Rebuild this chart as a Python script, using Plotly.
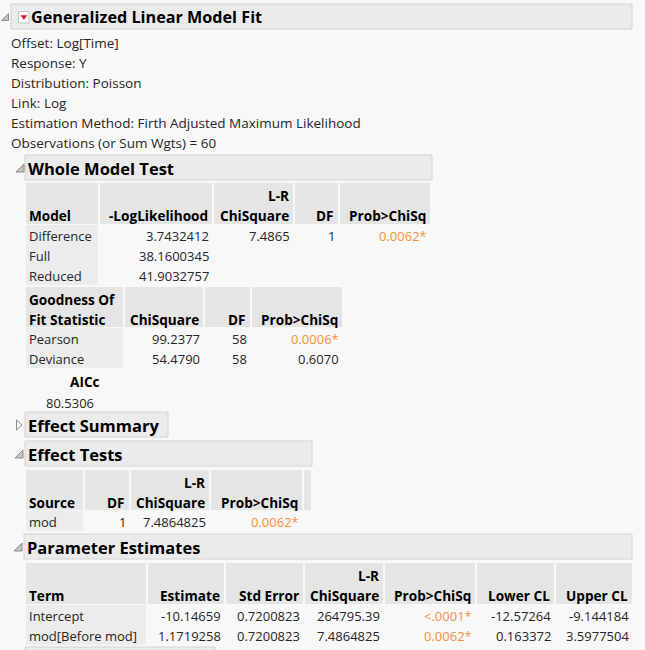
import plotly.graph_objects as go

# ------------------------------------------------------
# Report content (JMP Generalized Linear Model Fit)
# ------------------------------------------------------
main_title = "Generalized Linear Model Fit"
info_lines = [
    "Offset: Log[Time]",
    "Response: Y",
    "Distribution: Poisson",
    "Link: Log",
    "Estimation Method: Firth Adjusted Maximum Likelihood",
    "Observations (or Sum Wgts) = 60",
]

# Whole Model Test
wmt_headers = [("", "Model"), ("", "-LogLikelihood"), ("L-R", "ChiSquare"), ("", "DF"), ("", "Prob>ChiSq")]
wmt_model = ["Difference", "Full", "Reduced"]
wmt_loglik = ["3.7432412", "38.1600345", "41.9032757"]
wmt_chisq = ["7.4865", "", ""]
wmt_df = ["1", "", ""]
wmt_prob = ["0.0062*", "", ""]

# Goodness of fit
gof_headers = [("Goodness Of", "Fit Statistic"), ("", "ChiSquare"), ("", "DF"), ("", "Prob>ChiSq")]
gof_stat = ["Pearson", "Deviance"]
gof_chisq = ["99.2377", "54.4790"]
gof_df = ["58", "58"]
gof_prob = ["0.0006*", "0.6070"]

aicc_label = "AICc"
aicc_value = "80.5306"

# Effect Tests
et_headers = [("", "Source"), ("", "DF"), ("L-R", "ChiSquare"), ("", "Prob>ChiSq"), ("", "")]
et_source = ["mod"]
et_df = ["1"]
et_chisq = ["7.4864825"]
et_prob = ["0.0062*"]
et_blank = [""]

# Parameter Estimates
pe_headers = [("", "Term"), ("", "Estimate"), ("", "Std Error"), ("L-R", "ChiSquare"),
              ("", "Prob>ChiSq"), ("", "Lower CL"), ("", "Upper CL")]
pe_term = ["Intercept", "mod[Before mod]"]
pe_estimate = ["-10.14659", "1.1719258"]
pe_stderr = ["0.7200823", "0.7200823"]
pe_chisq = ["264795.39", "7.4864825"]
pe_prob = ["<.0001*", "0.0062*"]
pe_lower = ["-12.57264", "0.163372"]
pe_upper = ["-9.144184", "3.5977504"]

# ------------------------------------------------------
# Styling
# ------------------------------------------------------
FONT = "Open Sans"
PAGE_BG = "#f8f8f8"
BOX_BG = "#ebebeb"
BOX_LINE = "#d3d3d3"
HEAD_BG = "#e5e5e5"
LABEL_BG = "#ececec"
TXT = "#262626"
SIG = "#f5903e"

fig = go.Figure()


def rect(x0, y0, x1, y1, fill, line=None):
    fig.add_shape(type="rect", xref="x", yref="y", x0=x0, y0=y0, x1=x1, y1=y1,
                  fillcolor=fill, line=dict(color=line or fill, width=1 if line else 0),
                  layer="below")


def txt(x, y, s, anchor="left", size=13, color=TXT, bold=False):
    if bold:
        s = "<b>" + s + "</b>"
    fig.add_annotation(x=x, y=y, xref="x", yref="y", text=s, showarrow=False,
                       xanchor=anchor, yanchor="middle", borderpad=0,
                       font=dict(family=FONT, size=size, color=color))


def tri_open(x0, y0, s=8):
    # JMP "open" outline icon: small triangle with right angle bottom-right
    fig.add_shape(type="path", xref="x", yref="y",
                  path=f"M {x0},{y0 + s} L {x0 + s},{y0 + s} L {x0 + s},{y0} Z",
                  fillcolor="#c4c4c4", line=dict(color="#8c8c8c", width=1))


def tri_closed(x0, y0, s=10):
    fig.add_shape(type="path", xref="x", yref="y",
                  path=f"M {x0},{y0} L {x0 + s * 0.55},{y0 + s / 2} L {x0},{y0 + s} Z",
                  fillcolor="#fdfdfd", line=dict(color="#8c8c8c", width=1))


def section(title, x0, x1, y0, size=16.5, h=25):
    rect(x0, y0, x1, y0 + h, BOX_BG, BOX_LINE)
    txt(x0 + 2, y0 + h / 2 + 0.5, title, size=size, color="#000000", bold=True)


def draw_table(top, edges, headers, columns, head_h=41, row_h=20):
    hb = top + head_h
    nrows = len(columns[0])
    for i, (l1, l2) in enumerate(headers):
        x0, x1 = edges[i], edges[i + 1] - 2
        rect(x0, top, x1, hb, HEAD_BG)
        anchor = "left" if i == 0 else "right"
        tx = x0 + 2 if i == 0 else x1 - 3
        if l1:
            txt(tx, top + 12, l1, anchor, size=13.6, bold=True, color="#000000")
        if l2:
            txt(tx, top + 32, l2, anchor, size=13.6, bold=True, color="#000000")
    rect(edges[0], hb + 1, edges[1] - 2, hb + 1 + row_h * nrows, LABEL_BG)
    for j in range(nrows):
        y = hb + 12 + row_h * j
        for i, col in enumerate(columns):
            v = col[j]
            if not v:
                continue
            color = SIG if v.endswith("*") else TXT
            if i == 0:
                txt(edges[0] + 2, y, v, "left", color=color)
            else:
                txt(edges[i + 1] - 4.5, y, v, "right", color=color)


# main outline header
rect(11, 4, 632, 29, BOX_BG, BOX_LINE)
tri_open(1.5, 13.5, 7)
fig.add_shape(type="rect", xref="x", yref="y", x0=18.5, y0=11.5, x1=29, y1=23,
              fillcolor="#f6f6f6", line=dict(color="#c6c6c6", width=1))
fig.add_shape(type="path", xref="x", yref="y", path="M 21,15.5 L 26.8,15.5 L 23.9,19.5 Z",
              fillcolor="#d41a1a", line=dict(color="#d41a1a", width=0.5))
txt(30, 17, main_title, size=16.2, color="#000000", bold=True)

for k, line in enumerate(info_lines):
    txt(10, 43 + 20 * k, line, size=13.5)

# Whole Model Test
tri_open(16, 164)
section("Whole Model Test", 25, 432, 155)
draw_table(183, [26, 100, 214, 295, 340, 432], wmt_headers,
           [wmt_model, wmt_loglik, wmt_chisq, wmt_df, wmt_prob])
draw_table(287, [26, 125, 205, 252, 344], gof_headers,
           [gof_stat, gof_chisq, gof_df, gof_prob], head_h=40)
txt(101, 381, aicc_label, "right", size=13.6, bold=True, color="#000000")
txt(95, 403, aicc_value, "right")

# Effect Summary (closed)
tri_closed(16.5, 420)
section("Effect Summary", 25, 168, 412)

# Effect Tests
tri_open(15, 450)
section("Effect Tests", 25, 312, 441)
draw_table(470, [26, 85, 131, 211, 304, 313], et_headers,
           [et_source, et_df, et_chisq, et_prob, et_blank], head_h=40)

# Parameter Estimates
tri_open(14, 543)
section("Parameter Estimates", 24, 632, 534)
draw_table(563, [26, 148, 226, 305, 385, 477, 556, 634], pe_headers,
           [pe_term, pe_estimate, pe_stderr, pe_chisq, pe_prob, pe_lower, pe_upper])

# next (collapsed) outline box, cut off by the window
rect(25, 647, 215, 672, BOX_BG, BOX_LINE)

fig.update_layout(
    width=645, height=650,
    margin=dict(l=0, r=0, t=0, b=0),
    paper_bgcolor=PAGE_BG, plot_bgcolor=PAGE_BG,
    xaxis=dict(range=[0, 645], visible=False, fixedrange=True),
    yaxis=dict(range=[650, 0], visible=False, fixedrange=True),
    showlegend=False,
)

# drop the browser's default body margin so the report sits at the page corner
fig.write_html("out.html", config={"displayModeBar": False},
               post_script="document.body.style.margin='0';"
               "document.body.style.background='" + PAGE_BG + "';")
